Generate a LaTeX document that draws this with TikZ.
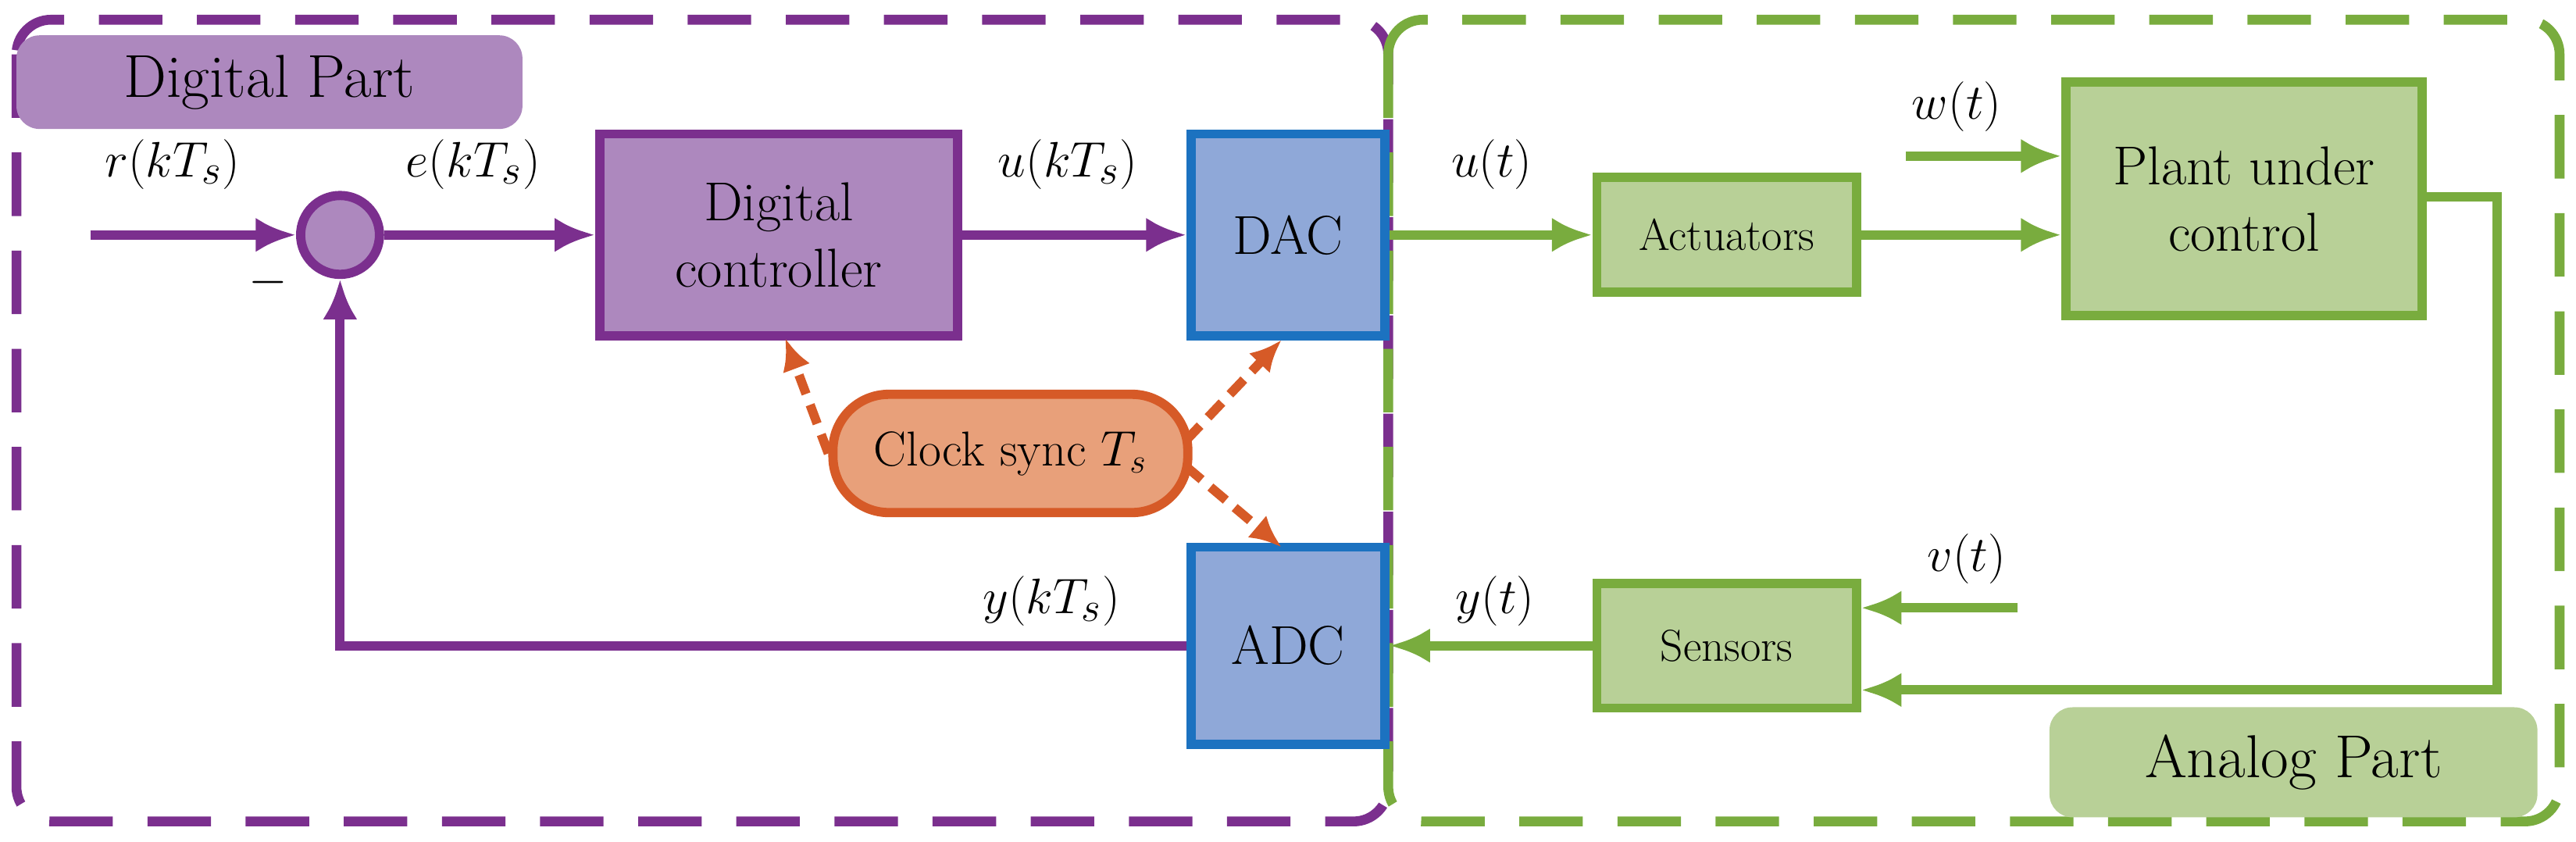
\documentclass[tikz,border=0pt]{standalone}
\usetikzlibrary{arrows.meta}
\definecolor{pl}{HTML}{7B2F8E}\definecolor{pf}{HTML}{AD88BE}
\definecolor{bl}{HTML}{1C72C0}\definecolor{bf}{HTML}{8FA8D8}
\definecolor{gl}{HTML}{79AC3E}\definecolor{gf}{HTML}{B8D097}
\definecolor{ol}{HTML}{D65A27}\definecolor{of}{HTML}{E8A07A}
\begin{document}
\begin{tikzpicture}[x=0.02cm,y=-0.02cm,
 lw/.style={line width=3.2pt},
 pbox/.style={draw=pl,fill=pf,lw},
 bbox/.style={draw=bl,fill=bf,lw},
 gbox/.style={draw=gl,fill=gf,lw},
 parr/.style={draw=pl,lw,-{Latex[length=14pt,width=12pt]}},
 garr/.style={draw=gl,lw,-{Latex[length=14pt,width=12pt]}},
 oarr/.style={draw=ol,lw,dash pattern=on 7pt off 4pt,-{Latex[length=11pt,width=10pt]}},
 lab/.style={font=\fontsize{19}{22}\selectfont},
 txt/.style={font=\fontsize{19}{23}\selectfont,align=center}]
\useasboundingbox (0,0) rectangle (1568,512.5);
\draw[pl,line width=3.4pt,dash pattern=on 22pt off 12pt,rounded corners=12pt] (10,12) rectangle (845,500);
\draw[gl,line width=3.4pt,dash pattern=on 22pt off 12pt,rounded corners=12pt] (845,12) rectangle (1558,500);
\node[fill=pf,rounded corners=8pt,minimum width=308*0.02cm,minimum height=57*0.02cm,font=\fontsize{21}{25}\selectfont] (dp) at (164,50) {Digital Part};
\node[fill=gf,rounded corners=8pt,minimum width=297*0.02cm,minimum height=67*0.02cm,font=\fontsize{21}{25}\selectfont] (ap) at (1396,464) {Analog Part};
\node[circle,pbox,minimum size=48*0.02cm,inner sep=0] (sum) at (207,143) {};
\coordinate (rin) at (55,143);
\node[pbox,txt,minimum width=218*0.02cm,minimum height=123*0.02cm] (ctrl) at (474,143) {Digital\\controller};
\node[bbox,txt,minimum width=118*0.02cm,minimum height=123*0.02cm] (dac) at (784,143) {DAC};
\node[bbox,txt,minimum width=118*0.02cm,minimum height=120*0.02cm] (adc) at (784,393) {ADC};
\node[gbox,font=\fontsize{15.5}{18}\selectfont,minimum width=158*0.02cm,minimum height=70*0.02cm] (act) at (1051,143) {Actuators};
\node[gbox,font=\fontsize{15.5}{18}\selectfont,minimum width=158*0.02cm,minimum height=76*0.02cm] (sen) at (1051,393) {Sensors};
\node[gbox,txt,minimum width=217*0.02cm,minimum height=142*0.02cm] (pl) at (1366,121) {Plant under\\control};
\node[draw=ol,fill=of,lw,rounded corners=34*0.02cm,font=\fontsize{17}{20}\selectfont,minimum width=216*0.02cm,minimum height=72*0.02cm] (clk) at (615,276) {Clock sync $T_s$};
\coordinate (win) at (1160,95);\coordinate (vin) at (1228,370);
\coordinate (c1) at (1520,120);\coordinate (c2) at (1520,420);\coordinate (c3) at (207,393);
\draw[parr] (rin) -- (sum);
\draw[parr] (sum) -- (ctrl);
\draw[parr] (ctrl) -- (dac);
\draw[garr] (dac) -- (act);
\draw[garr] (act) -- (act.east -| pl.west);
\draw[garr] (win) -- (win -| pl.west);
\draw[garr] (pl.east |- c1) -- (c1) -- (c2) -- (c2 -| sen.east);
\draw[garr] (vin) -- (vin -| sen.east);
\draw[garr] (sen) -- (adc);
\draw[parr] (adc.west) -- (c3) -- (sum);
\draw[oarr] (clk.west) -- (478,206);
\draw[oarr] (722,268) -- (780,207);
\draw[oarr] (722,284) -- (780,333);
\node[lab] (l1) at (105,100) {$r(kT_s)$};
\node[lab] (l2) at (288,100) {$e(kT_s)$};
\node[lab] (l3) at (650,100) {$u(kT_s)$};
\node[lab] (l4) at (908,100) {$u(t)$};
\node[lab] (l5) at (1191,65) {$w(t)$};
\node[lab] (l6) at (1197,340) {$v(t)$};
\node[lab] (l7) at (910,366) {$y(t)$};
\node[lab] (l8) at (640,366) {$y(kT_s)$};
\node[lab] (mn) at (163,172) {$-$};
\end{tikzpicture}
\end{document}
